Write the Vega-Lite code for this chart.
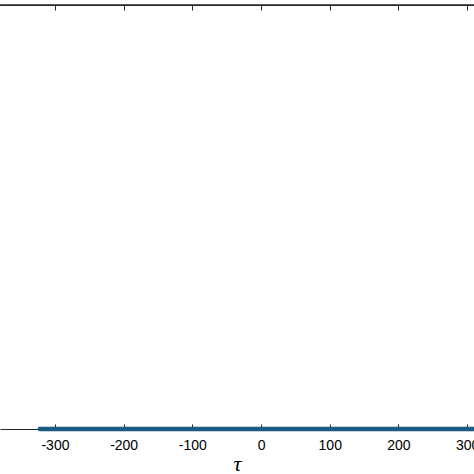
{
  "$schema": "https://vega.github.io/schema/vega-lite/v6.json",
  "width": 474,
  "height": 424,
  "autosize": "none",
  "padding": {"left": 0, "top": 5, "right": 0, "bottom": 45},
  "background": "white",
  "config": {
    "view": {"stroke": null},
    "axis": {"grid": false, "labelFont": "Liberation Sans", "labelColor": "#000000"}
  },
  "data": {
    "values": [
      {"tau": -322, "value": 0},
      {"tau": 315, "value": 0}
    ]
  },
  "layer": [
    {
      "mark": {"type": "line", "color": "#1a5a85", "strokeWidth": 4.5, "strokeCap": "round"},
      "encoding": {
        "x": {
          "field": "tau",
          "type": "quantitative",
          "scale": {"domain": [-380, 310], "nice": false, "zero": false},
          "axis": {
            "orient": "bottom",
            "values": [-300, -200, -100, 0, 100, 200, 300],
            "labelExpr": "toString(datum.value)",
            "tickSize": -5,
            "tickColor": "#262626",
            "domainColor": "#262626",
            "labelFontSize": 14,
            "labelPadding": 14,
            "title": "τ",
            "titleFont": "Liberation Serif",
            "titleFontStyle": "italic",
            "titleFontWeight": "normal",
            "titleFontSize": 22,
            "titlePadding": 1
          }
        },
        "y": {
          "field": "value",
          "type": "quantitative",
          "scale": {"domain": [0, 1], "nice": false},
          "axis": null
        }
      }
    },
    {
      "mark": {"type": "rule", "color": "#262626", "strokeWidth": 1},
      "encoding": {
        "y": {"datum": 1},
        "x": {
          "datum": -380,
          "type": "quantitative",
          "axis": {
            "orient": "top",
            "values": [-300, -200, -100, 0, 100, 200, 300],
            "tickSize": -5,
            "tickColor": "#262626",
            "domainColor": "#262626",
            "labels": false,
            "title": null
          }
        },
        "x2": {"datum": 310}
      }
    }
  ],
  "resolve": {"axis": {"x": "independent"}}
}
